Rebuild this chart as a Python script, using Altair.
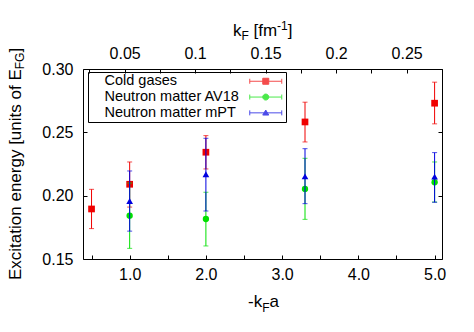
import altair as alt
import pandas as pd

FONT = "Liberation Sans"

series_names = ["Cold gases", "Neutron matter AV18", "Neutron matter mPT"]
series_colors = ["#f00000", "#00e000", "#0000e0"]
series_shapes = ["square", "circle", "triangle-up"]
series_sizes = [45, 40, 45]

# Cold gases
cold_x = [0.5, 1.0, 2.0, 3.3, 5.0]
cold_y = [0.1895, 0.2090, 0.2343, 0.2582, 0.2730]
cold_lo = [0.1740, 0.1910, 0.2211, 0.2424, 0.2567]
cold_hi = [0.2050, 0.2266, 0.2474, 0.2738, 0.2896]

# Neutron matter AV18
av18_x = [1.0, 2.0, 3.3, 5.0]
av18_y = [0.1842, 0.1816, 0.2053, 0.2106]
av18_lo = [0.1584, 0.1603, 0.1813, 0.1950]
av18_hi = [0.2100, 0.2027, 0.2295, 0.2266]

# Neutron matter mPT
mpt_x = [1.0, 2.0, 3.3, 5.0]
mpt_y = [0.1958, 0.2169, 0.2153, 0.2150]
mpt_lo = [0.1720, 0.1879, 0.1937, 0.1948]
mpt_hi = [0.2195, 0.2453, 0.2371, 0.2340]

x_ticks = [0.5, 1.0, 1.5, 2.0, 2.5, 3.0, 3.5, 4.0, 4.5, 5.0]
kf_ticks = [0.025, 0.05, 0.075, 0.1, 0.125, 0.15, 0.175, 0.2, 0.225, 0.25, 0.275]
y_ticks = [0.15, 0.20, 0.25, 0.30]

x_domain = [0.388, 5.097]
kf_domain = [0.0205, 0.2751]
y_domain = [0.15, 0.30]

# legend symbols: horizontal error bar with marker, drawn to the right of the labels
legend_paths = [
    "M152.5,0H184.5M152.5,-2.5V2.5M184.5,-2.5V2.5M165.5,-3H171.5V3H165.5Z",
    "M152.5,0H184.5M152.5,-2.5V2.5M184.5,-2.5V2.5M171.5,0A3,3,0,1,1,165.5,0A3,3,0,1,1,171.5,0Z",
    "M152.5,0H184.5M152.5,-2.5V2.5M184.5,-2.5V2.5M168.5,-2.8L171.5,2.2H165.5Z",
]

rows = []
for name, xs, ys, los, his in [
    (series_names[0], cold_x, cold_y, cold_lo, cold_hi),
    (series_names[1], av18_x, av18_y, av18_lo, av18_hi),
    (series_names[2], mpt_x, mpt_y, mpt_lo, mpt_hi),
]:
    for x, y, lo, hi in zip(xs, ys, los, his):
        rows.append({"series": name, "x": x, "y": y, "lo": lo, "hi": hi})
df = pd.DataFrame(rows)

xscale = alt.Scale(domain=x_domain, nice=False, zero=False)
yscale = alt.Scale(domain=y_domain, nice=False, zero=False)
color_scale = alt.Scale(domain=series_names, range=series_colors)

x_axis = alt.Axis(values=x_ticks, labelExpr="datum.value % 1 == 0 ? format(datum.value, '.1f') : ''",
                  tickSize=4, offset=-4, domain=False, grid=False, labelPadding=7,
                  labelFontSize=16, labelFont=FONT, labelColor="black", tickColor="black",
                  labelFlush=False, title=None)
y_axis = alt.Axis(values=y_ticks, format=".2f", tickSize=4, offset=-4, domain=False, grid=False,
                  labelPadding=10, labelFontSize=16, labelFont=FONT, labelColor="black",
                  tickColor="black", labelFlush=False, title=None)

leg = alt.Legend(title=None, orient="none", legendX=5, legendY=3, padding=2, rowPadding=0.8,
                 labelOffset=0, labelFontSize=14.5, labelFont=FONT, labelColor="black",
                 symbolSize=4, symbolStrokeWidth=1, strokeColor="black")

layers = []
# invisible layer that carries the legend
layers.append(alt.Chart(df).mark_point(size=0, filled=False, strokeWidth=1).encode(
    x=alt.X("x:Q", scale=xscale, axis=x_axis),
    y=alt.Y("y:Q", scale=yscale, axis=y_axis),
    stroke=alt.Stroke("series:N", scale=alt.Scale(domain=series_names, range=series_colors), legend=leg),
    shape=alt.Shape("series:N", scale=alt.Scale(domain=series_names, range=legend_paths), legend=leg),
))
for name, shape, sz in zip(series_names, series_shapes, series_sizes):
    base = alt.Chart(df).transform_filter(alt.datum.series == name)
    X = alt.X("x:Q", scale=xscale, axis=x_axis)
    C = alt.Color("series:N", scale=color_scale, legend=None)
    layers.append(base.mark_rule(strokeWidth=1).encode(
        x=X, y=alt.Y("lo:Q", scale=yscale, axis=y_axis), y2="hi:Q", color=C))
    layers.append(base.mark_tick(orient="horizontal", size=5, thickness=1).encode(
        x=X, y=alt.Y("lo:Q", scale=yscale, axis=y_axis), color=C))
    layers.append(base.mark_tick(orient="horizontal", size=5, thickness=1).encode(
        x=X, y=alt.Y("hi:Q", scale=yscale, axis=y_axis), color=C))
    layers.append(base.mark_point(shape=shape, filled=True, size=sz, opacity=1).encode(
        x=X, y=alt.Y("y:Q", scale=yscale, axis=y_axis), color=C))

inner = alt.layer(*layers)

top_axis = alt.Axis(orient="top", values=kf_ticks,
                    labelExpr="round(datum.value * 40) % 2 == 0 ? format(datum.value, '.2~f') : ''",
                    tickSize=4, offset=-4, domain=False, grid=False, labelPadding=8,
                    labelFontSize=16, labelFont=FONT, labelColor="black", tickColor="black",
                    labelFlush=False, title=None)
right_axis = alt.Axis(orient="right", values=y_ticks, labels=False, tickSize=4, offset=-4,
                      domain=False, grid=False, tickColor="black", title=None)

axis_layer = alt.Chart(df).transform_calculate(kf="datum.x / 18.5").mark_point(size=0).encode(
    x=alt.X("kf:Q", scale=alt.Scale(domain=kf_domain, nice=False, zero=False), axis=top_axis),
    y=alt.Y("y:Q", scale=yscale, axis=right_axis),
)

one = pd.DataFrame({"a": [0]})


def txt(s, x, y, size=17, angle=0):
    return alt.Chart(one).mark_text(text=s, align="left", baseline="alphabetic", font=FONT,
                                    fontSize=size, color="black", angle=angle).encode(
        x=alt.value(x), y=alt.value(y))


titles = [
    # top: k_F [fm^-1]
    txt("k", 150, -33), txt("F", 158.5, -29.5, 12), txt("[fm", 170.5, -33),
    txt("-1", 194.1, -39, 12), txt("]", 204.8, -33),
    # bottom: -k_F a
    txt("-k", 165, 238), txt("F", 179.2, 242.5, 12), txt("a", 186.5, 238),
    # left: Excitation energy [units of E_FG]
    txt("Excitation energy [units of E", -62.3, 211, 17, 270),
    txt("FG", -58.8, 0.3, 12, 270),
    txt("]", -62.3, -16.4, 17, 270),
]

chart = alt.layer(inner, axis_layer, *titles).resolve_scale(x="independent", y="independent").properties(
    width=359, height=190, autosize="none",
    padding={"left": 83, "top": 69, "right": 32, "bottom": 73},
    background="white",
).configure_view(stroke="black", strokeWidth=1)

chart.save("out.html", embed_options={"renderer": "svg", "actions": False})
